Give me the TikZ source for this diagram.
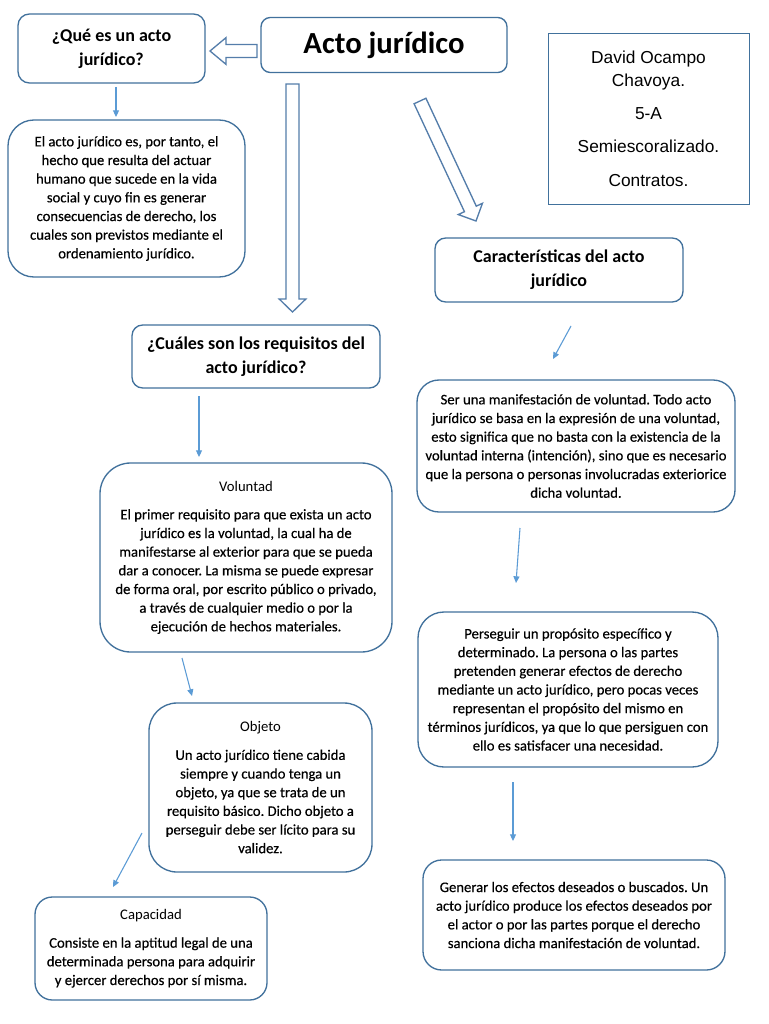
\documentclass[tikz,border=0pt]{standalone}
\usepackage{fontspec}
\setmainfont{Carlito}
\newfontfamily\heavyf[FakeBold=0.35]{Carlito}
\newfontfamily\arialf{Liberation Sans}
\usetikzlibrary{calc,arrows.meta}
\definecolor{boxc}{RGB}{65,113,156}
\definecolor{arrc}{RGB}{91,155,213}
\definecolor{blkc}{RGB}{84,125,170}
\newcommand\blockarr[5]{%
  \coordinate (bah) at ($(#2)!#3!(#1)$);
  \draw[blk] ($(#1)!#4!90:(#2)$) -- ($(bah)!#4!90:(#2)$) -- ($(bah)!#5!90:(#2)$) -- (#2)
    -- ($(bah)!#5!-90:(#2)$) -- ($(bah)!#4!-90:(#2)$) -- ($(#1)!#4!-90:(#2)$) -- cycle;}
\newcommand\lbl[1]{{\mdseries\rmfamily #1}}
\frenchspacing
\begin{document}
\frenchspacing
\begin{tikzpicture}[x=0.75pt,y=-0.75pt,
  box/.style={draw=boxc, line width=1pt, fill=white, align=center, inner sep=0pt,
    font=\heavyf\fontsize{11}{14}\selectfont\frenchspacing},
  head/.style={font=\rmfamily\bfseries\fontsize{13.5}{18}\selectfont},
  thinarr/.style={draw=arrc, line width=0.8pt, -{Triangle[length=5pt,width=4.5pt]}},
  blk/.style={draw=blkc, line width=1pt, fill=white, line join=miter}]
\fill[white] (0,0) rectangle (768,1024);
\useasboundingbox (0,0) rectangle (768,1024);

% boxes
\node[box, head, minimum width=140.25pt, minimum height=51.75pt, rounded corners=8.6pt] (whatis) at (111.5,48.5)
  {¿Qué es un acto\\jurídico?};
\node[box, font=\rmfamily\bfseries\fontsize{23}{27}\selectfont, minimum width=184.5pt, minimum height=41.25pt, rounded corners=7pt] (title) at (384,45)
  {Acto jurídico};
\node[box, minimum width=177.75pt, minimum height=117.75pt, rounded corners=19.5pt] (def) at (126.5,198.5)
  {El acto jurídico es, por tanto, el\\hecho que resulta del actuar\\humano que sucede en la vida\\social y cuyo fin es generar\\consecuencias de derecho, los\\cuales son previstos mediante el\\ordenamiento jurídico.};
\node[draw=boxc, line width=0.7pt, align=center, inner sep=0pt, minimum width=150.75pt, minimum height=128.25pt,
  font=\arialf\fontsize{13}{16}\selectfont] (author) at (648.5,118.5)
  {David Ocampo\\[1pt]Chavoya.\\[9pt]5-A\\[9pt]Semiescoralizado.\\[9pt]Contratos.};
\node[box, head, minimum width=186pt, minimum height=48pt, rounded corners=8pt] (caract) at (559,270)
  {Características del acto\\jurídico};
\node[box, minimum width=238.5pt, minimum height=99pt, rounded corners=16.5pt] (ser) at (576,446)
  {Ser una manifestación de voluntad. Todo acto\\jurídico se basa en la expresión de una voluntad,\\esto significa que no basta con la existencia de la\\voluntad interna (intención), sino que es necesario\\que la persona o personas involucradas exteriorice\\dicha voluntad.};
\node[box, head, minimum width=186pt, minimum height=47.25pt, rounded corners=8pt] (req) at (256,356.5)
  {¿Cuáles son los requisitos del\\acto jurídico?};
\node[box, minimum width=219pt, minimum height=141.75pt, rounded corners=23pt] (vol) at (246,557.5)
  {\lbl{Voluntad}\\[7pt]El primer requisito para que exista un acto\\jurídico es la voluntad, la cual ha de\\manifestarse al exterior para que se pueda\\dar a conocer. La misma se puede expresar\\de forma oral, por escrito público o privado,\\a través de cualquier medio o por la\\ejecución de hechos materiales.};
\node[box, minimum width=167.25pt, minimum height=126.75pt, rounded corners=21pt] (obj) at (260.5,787.5)
  {\lbl{Objeto}\\[7pt]Un acto jurídico tiene cabida\\siempre y cuando tenga un\\objeto, ya que se trata de un\\requisito básico. Dicho objeto a\\perseguir debe ser lícito para su\\validez.};
\node[box, minimum width=174pt, minimum height=77.25pt, rounded corners=13pt] (cap) at (151,948.5)
  {\lbl{Capacidad}\\[7pt]Consiste en la aptitud legal de una\\determinada persona para adquirir\\y ejercer derechos por sí misma.};
\node[box, minimum width=225pt, minimum height=116.25pt, rounded corners=19.5pt] (pers) at (568,689.5)
  {Perseguir un propósito específico y\\determinado. La persona o las partes\\pretenden generar efectos de derecho\\mediante un acto jurídico, pero pocas veces\\representan el propósito del mismo en\\términos jurídicos, ya que lo que persiguen con\\ello es satisfacer una necesidad.};
\node[box, minimum width=226.5pt, minimum height=82.5pt, rounded corners=14pt] (gen) at (574,915)
  {Generar los efectos deseados o buscados. Un\\acto jurídico produce los efectos deseados por\\el actor o por las partes porque el derecho\\sanciona dicha manifestación de voluntad.};

% block arrows
\coordinate (la-s) at (257,51);
\coordinate (la-e) at (210,51);
\blockarr{la-s}{la-e}{12pt}{4.9pt}{10pt}
\coordinate (va-s) at (292.5,84);
\coordinate (va-e) at (292.5,312);
\blockarr{va-s}{va-e}{9.75pt}{4.9pt}{10pt}
\coordinate (da-s) at (420,101);
\coordinate (da-e) at (476,221);
\blockarr{da-s}{da-e}{10pt}{4.9pt}{10pt}

% thin arrows
\coordinate (t1s) at (116,87);  \coordinate (t1e) at (116,117);
\coordinate (t2s) at (571,326); \coordinate (t2e) at (553,359);
\coordinate (t3s) at (199,396); \coordinate (t3e) at (199,457);
\coordinate (t4s) at (520,528); \coordinate (t4e) at (516,583);
\coordinate (t5s) at (182,658); \coordinate (t5e) at (192,696);
\coordinate (t6s) at (142,833); \coordinate (t6e) at (113,887);
\coordinate (t7s) at (513,782); \coordinate (t7e) at (513,841);
\foreach \i in {1,...,7} \draw[thinarr] (t\i s) -- (t\i e);
\end{tikzpicture}
\end{document}
